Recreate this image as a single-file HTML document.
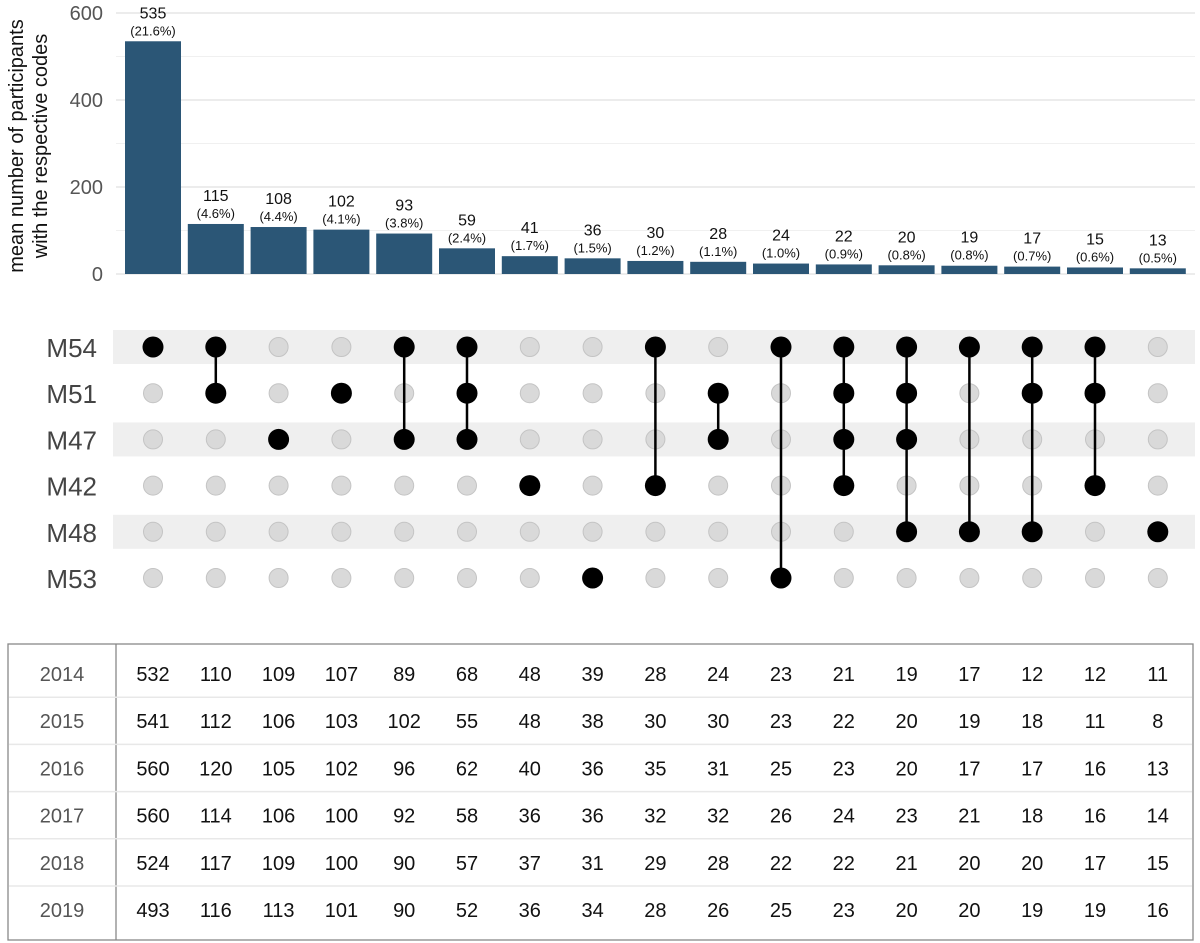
<!DOCTYPE html>
<html><head><meta charset="utf-8"><style>
body{margin:0;background:#fff;}
svg{display:block;font-family:"Liberation Sans",Arial,sans-serif;}
</style></head><body>
<svg id="chart" width="1200" height="943" viewBox="0 0 1200 943">
<g id="grid"></g>
<g id="bars"></g>
<g id="yaxis"></g>
<text transform="translate(23,146) rotate(-90)" text-anchor="middle" font-size="20" fill="#111"><tspan x="0" dy="0">mean number of participants</tspan><tspan x="0" dy="24">with the respective codes</tspan></text>
<g id="matrix"></g>
<g id="table"></g>
</svg>
<script>
const values=[535,115,108,102,93,59,41,36,30,28,24,22,20,19,17,15,13];
const pcts=["21.6%","4.6%","4.4%","4.1%","3.8%","2.4%","1.7%","1.5%","1.2%","1.1%","1.0%","0.9%","0.8%","0.8%","0.7%","0.6%","0.5%"];
const sets=["M54","M51","M47","M42","M48","M53"];
const combos=[[0],[0,1],[2],[1],[0,2],[0,1,2],[3],[5],[0,3],[1,2],[0,5],[0,1,2,3],[0,1,2,4],[0,4],[0,1,4],[0,1,3],[4]];
const yTicks=[0,200,400,600];
const years=["2014","2015","2016","2017","2018","2019"];
const yearData=[
[532,110,109,107,89,68,48,39,28,24,23,21,19,17,12,12,11],
[541,112,106,103,102,55,48,38,30,30,23,22,20,19,18,11,8],
[560,120,105,102,96,62,40,36,35,31,25,23,20,17,17,16,13],
[560,114,106,100,92,58,36,36,32,32,26,24,23,21,18,16,14],
[524,117,109,100,90,57,37,31,29,28,22,22,21,20,20,17,15],
[493,116,113,101,90,52,36,34,28,26,25,23,20,20,19,19,16]];
const NS="http://www.w3.org/2000/svg";
function mk(tag,attrs,parent,txt){const e=document.createElementNS(NS,tag);for(const k in attrs)e.setAttribute(k,attrs[k]);if(txt!=null)e.textContent=txt;parent.appendChild(e);return e;}
const x=i=>153+i*62.8;
const y=v=>274-v*(261/600);
const rowY=r=>347+r*46.2;
const G=document.getElementById('grid'),B=document.getElementById('bars'),YA=document.getElementById('yaxis'),M=document.getElementById('matrix'),T=document.getElementById('table');
for(let v=0;v<=600;v+=100){const l=mk('line',{x1:116,x2:1195,y1:y(v),y2:y(v),stroke:v%200==0?'#e6e6e6':'#f0f0f0','stroke-width':v%200==0?1.6:1},G);}
yTicks.forEach(t=>{const e=mk('text',{x:103,y:y(t)+7,'text-anchor':'end','font-size':20,fill:'#555'},YA,t);});
values.forEach((v,i)=>{
 const r=mk('rect',{x:x(i)-28,y:y(v),width:56,height:y(0)-y(v),fill:'#2b5676'},B);
 
 const t=mk('text',{x:x(i),y:y(v)-23,'text-anchor':'middle','font-size':16,fill:'#111'},B,v);
 
 const p=mk('text',{x:x(i),y:y(v)-6,'text-anchor':'middle','font-size':13,fill:'#111'},B,'('+pcts[i]+')');
 
});
sets.forEach((s,r)=>{
 if(r%2==0){const st=mk('rect',{x:113,y:rowY(r)-17,width:1082,height:34,fill:'#efefef'},M);}
 const t=mk('text',{x:97,y:rowY(r)+10,'text-anchor':'end','font-size':26,fill:'#444'},M,s);
 
});
combos.forEach((c,i)=>{
 const mn=Math.min(...c),mx=Math.max(...c);
 for(let r=0;r<sets.length;r++){if(!c.includes(r)){const d=mk('circle',{cx:x(i),cy:rowY(r),r:9.5,fill:'#d9d9d9',stroke:'#c4c4c4','stroke-width':1},M);}}
 if(mx>mn){const l=mk('line',{x1:x(i),x2:x(i),y1:rowY(mn),y2:rowY(mx),stroke:'#000','stroke-width':2.5},M);}
 c.forEach(r=>{const d=mk('circle',{cx:x(i),cy:rowY(r),r:10.5,fill:'#000'},M);});
});
const tb=mk('rect',{x:8,y:644,width:1185,height:296,fill:'none',stroke:'#888','stroke-width':1.3},T);

const dv=mk('line',{x1:116,x2:116,y1:644,y2:940,stroke:'#888','stroke-width':1.3},T);

const trY=r=>674+r*47.2;
years.forEach((yr,r)=>{
 if(r>0){const l=mk('line',{x1:9,x2:1192,y1:trY(r)-24,y2:trY(r)-24,stroke:'#e8e8e8','stroke-width':1.5},T);}
 const t=mk('text',{x:62,y:trY(r)+7,'text-anchor':'middle','font-size':20,fill:'#555'},T,yr);
 
 yearData[r].forEach((v,i)=>{const c=mk('text',{x:x(i),y:trY(r)+7,'text-anchor':'middle','font-size':20,fill:'#111'},T,v);});
});
</script>
</body></html>
